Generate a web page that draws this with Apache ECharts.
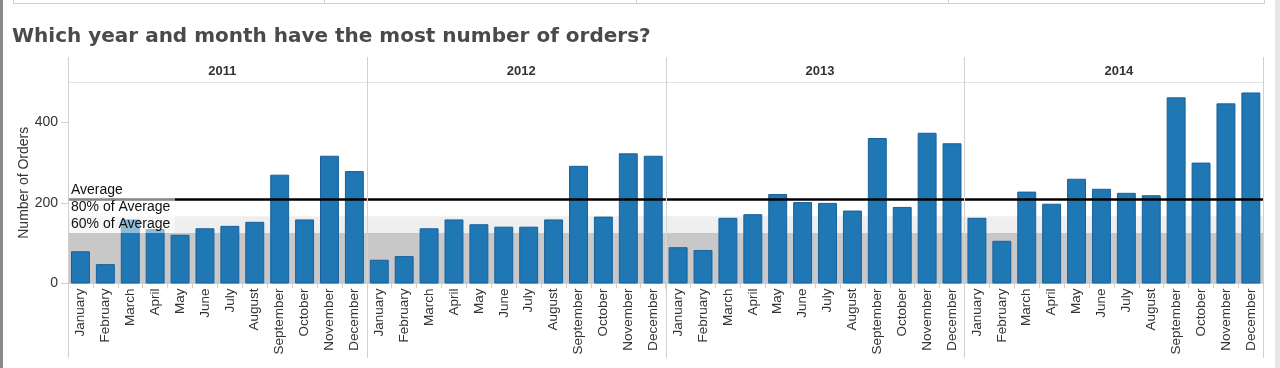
<!DOCTYPE html>
<html>
<head>
<meta charset="utf-8">
<script src="https://cdn.jsdelivr.net/npm/echarts@6/dist/echarts.min.js"></script>
<style>html,body{margin:0;padding:0;background:#fff}#c{width:1280px;height:368px}</style>
</head>
<body>
<div id="c"></div>
<script>
const chartTitle = 'Which year and month have the most number of orders?';
const years = ['2011', '2012', '2013', '2014'];
const months = ['January','February','March','April','May','June','July','August','September','October','November','December'];
const orders2011 = [80, 48, 159, 135, 121, 137, 143, 153, 270, 159, 317, 279];
const orders2012 = [59, 68, 137, 159, 147, 141, 141, 159, 292, 166, 323, 317];
const orders2013 = [90, 83, 163, 172, 222, 202, 200, 181, 361, 190, 374, 348];
const orders2014 = [163, 106, 228, 198, 260, 235, 225, 219, 462, 300, 447, 474];
const yTicks = [0, 200, 400];
const yMax = 500;
const refLabels = ['Average', '80% of Average', '60% of Average'];
const refFractions = [1, 0.8, 0.6];

const allSeries = [orders2011, orders2012, orders2013, orders2014];
const flat = allSeries.flat();
const avg = flat.reduce((a, b) => a + b, 0) / flat.length;

const chart = echarts.init(document.getElementById('c'));
const FONT = '"Liberation Sans", Arial, sans-serif';
const plotLeft = 68, plotRight = 1263.3, plotTop = 82, plotBottom = 283.5;
const paneW = (plotRight - plotLeft) / years.length;

const grids = [], xAxes = [], yAxes = [], series = [], titles = [];
titles.push({
  text: chartTitle, left: 7, top: 22,
  textStyle: { fontFamily: 'DejaVu Sans', fontWeight: 'bold', fontSize: 20, color: '#4a4a4a' }
});
years.forEach((yr, i) => {
  const left = plotLeft + i * paneW;
  grids.push({ left: left, width: paneW, top: plotTop, height: plotBottom - plotTop, containLabel: false });
  titles.push({
    text: yr, left: left + paneW / 2, top: 60, textAlign: 'center',
    textStyle: { fontFamily: FONT, fontWeight: 'bold', fontSize: 13, color: '#333' }
  });
  xAxes.push({
    type: 'category', gridIndex: i, data: months,
    axisLine: { show: true, lineStyle: { color: '#d0d0d0', width: 1 } },
    axisTick: { show: true, length: 5, lineStyle: { color: '#d0d0d0' } },
    axisLabel: { rotate: 90, fontFamily: FONT, fontSize: 13.5, color: '#333', margin: 5, interval: 0 }
  });
  yAxes.push({
    type: 'value', gridIndex: i, min: 0, max: yMax,
    name: i === 0 ? 'Number of Orders' : '',
    nameLocation: 'middle', nameRotate: 90, nameGap: 37,
    nameTextStyle: { fontFamily: FONT, fontSize: 14, color: '#333' },
    splitLine: { show: false },
    axisLine: { show: false },
    axisTick: { show: i === 0, length: 7, customValues: yTicks, lineStyle: { color: '#d0d0d0' } },
    axisLabel: { show: i === 0, customValues: yTicks, fontFamily: FONT, fontSize: 14, color: '#333', margin: 10 }
  });
  const mlData = i === 0
    ? refFractions.map((f, k) => ({
        yAxis: avg * f,
        lineStyle: k === 0 ? { color: '#000', width: 2.5, type: 'solid' } : { color: 'rgba(0,0,0,0)', width: 1 },
        label: {
          show: true, position: 'insideStartTop', distance: 0,
          formatter: refLabels[k], fontFamily: FONT, fontSize: 14, color: '#111',
          backgroundColor: 'rgba(255,255,255,0.5)', padding: [1, 3, 2, 3], width: 101, align: 'left'
        }
      }))
    : [{ yAxis: avg, lineStyle: { color: '#000', width: 2.5, type: 'solid' }, label: { show: false } }];
  series.push({
    type: 'bar', xAxisIndex: i, yAxisIndex: i, data: allSeries[i],
    barWidth: '76%',
    itemStyle: { color: '#1f77b4', borderColor: '#19609a', borderWidth: 1 },
    emphasis: { disabled: true },
    markArea: {
      silent: true,
      data: [
        [{ yAxis: 0, itemStyle: { color: '#c8c8c8' } }, { yAxis: avg * 0.6 }],
        [{ yAxis: avg * 0.6, itemStyle: { color: '#efefef' } }, { yAxis: avg * 0.8 }]
      ]
    },
    markLine: { silent: true, symbol: 'none', data: mlData }
  });
});

const gfx = [];
gfx.push({ type: 'rect', shape: { x: 0, y: 0, width: 3, height: 368 }, style: { fill: '#8a8a8a' } });
gfx.push({ type: 'rect', shape: { x: 1275, y: 0, width: 5, height: 368 }, style: { fill: '#e6e6e6' } });
gfx.push({ type: 'rect', shape: { x: 13.5, y: -3, width: 1251, height: 6.5 }, style: { fill: 'none', stroke: '#cfcfcf', lineWidth: 1 } });
[324, 636, 948].forEach(x => gfx.push({ type: 'line', shape: { x1: x + 0.5, y1: 0, x2: x + 0.5, y2: 4 }, style: { stroke: '#cfcfcf', lineWidth: 1 } }));
gfx.push({ type: 'line', shape: { x1: plotLeft, y1: plotTop + 0.5, x2: plotRight, y2: plotTop + 0.5 }, style: { stroke: '#e2e2e2', lineWidth: 1 } });
for (let i = 0; i <= years.length; i++) {
  const x = Math.round(plotLeft + i * paneW) + 0.5;
  gfx.push({ type: 'line', shape: { x1: x, y1: 57, x2: x, y2: 358 }, style: { stroke: '#d0d0d0', lineWidth: 1 }, z: 100 });
}

chart.setOption({
  animation: false,
  backgroundColor: '#fff',
  title: titles,
  grid: grids,
  xAxis: xAxes,
  yAxis: yAxes,
  series: series,
  graphic: gfx
});
</script>
</body>
</html>
